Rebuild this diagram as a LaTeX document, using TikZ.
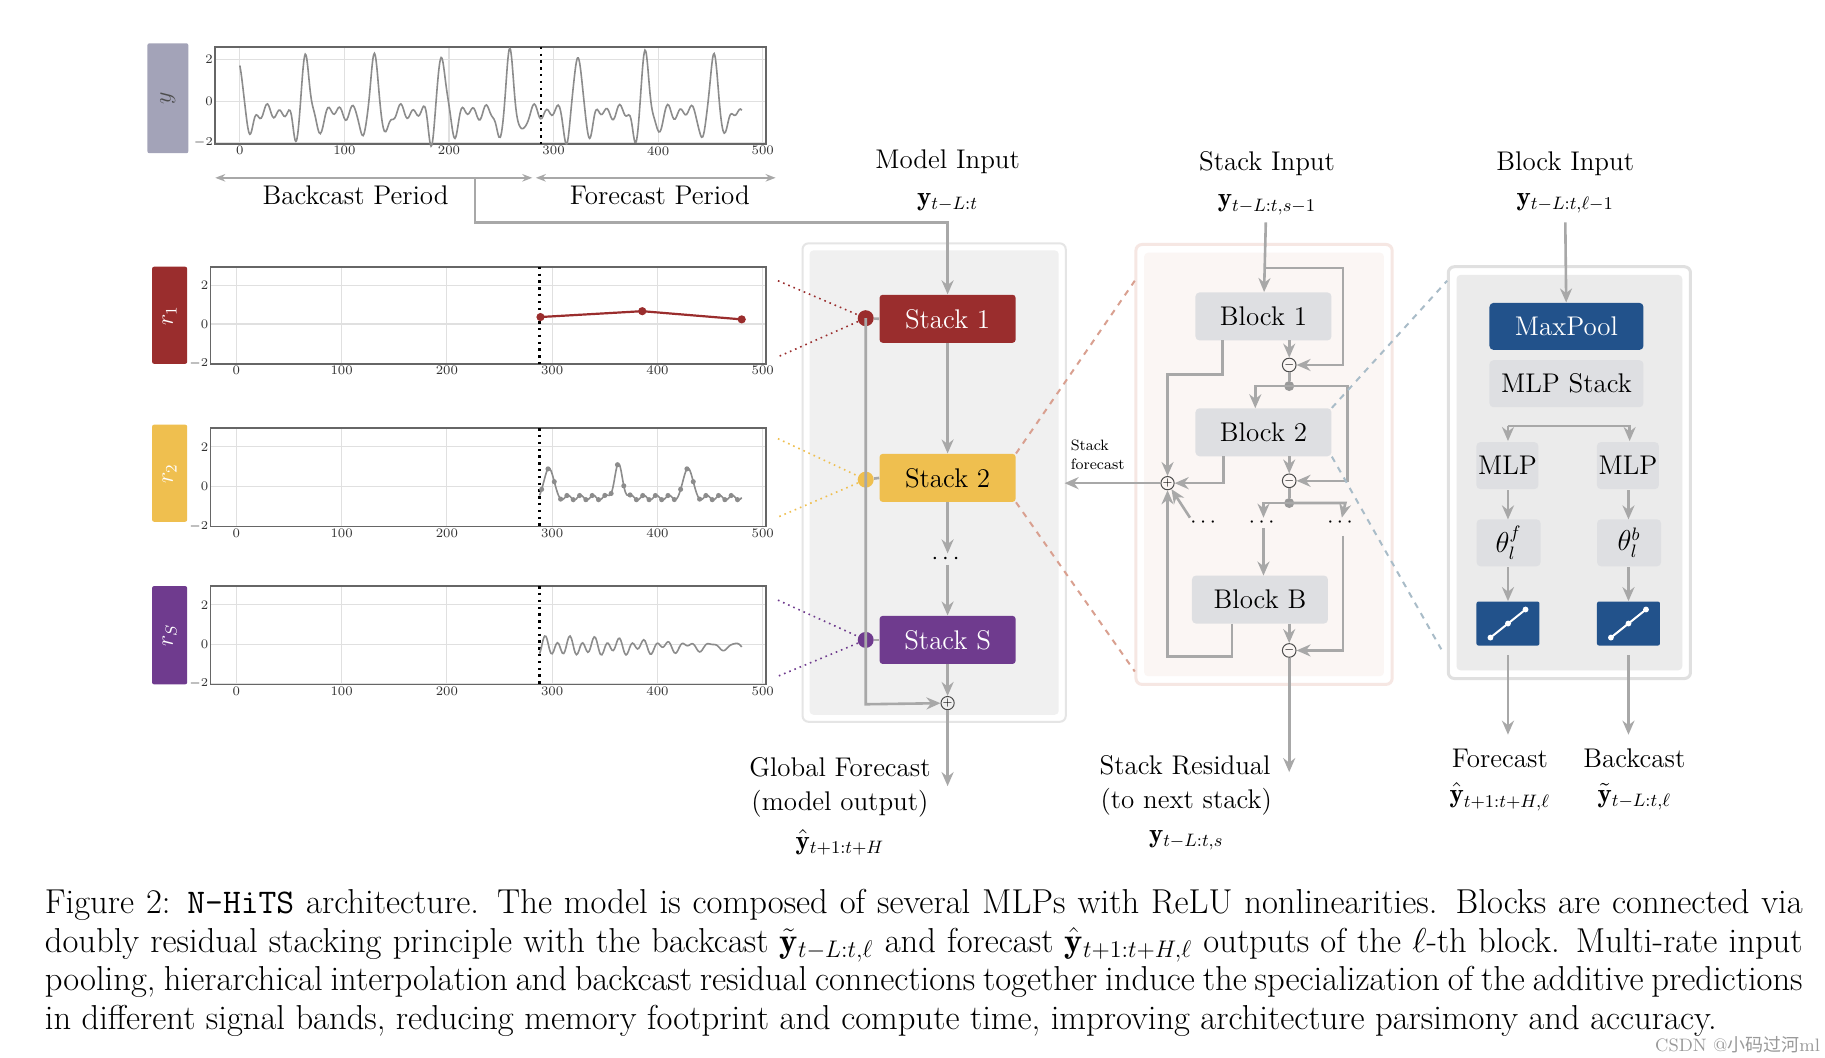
\documentclass[tikz,border=0pt]{standalone}
\usepackage{amsmath,amssymb}
\usepackage{fontspec}
\newfontfamily\cjk{Noto Sans CJK SC}
\usetikzlibrary{arrows.meta,calc}
\definecolor{cred}{HTML}{9A2D2D}
\definecolor{cyel}{HTML}{EFBF4F}
\definecolor{cpur}{HTML}{6F3B8E}
\definecolor{cgy}{HTML}{A3A3B8}
\definecolor{cblue}{HTML}{22528B}
\definecolor{cbox}{HTML}{DEDFE2}
\definecolor{cline}{HTML}{A8A8A8}
\definecolor{csal}{HTML}{D9A090}
\definecolor{cdb}{HTML}{A9BCC8}
\tikzset{
 ar/.style={draw=cline,line width=1.3pt,-{Stealth[length=7pt,width=6pt]}},
 ln/.style={draw=cline,line width=1.3pt},
 lab/.style={font=\fontsize{13.5}{15}\selectfont,inner sep=0pt},
 stk/.style={minimum width=68pt,minimum height=24pt,rounded corners=1.5pt,font=\fontsize{13.5}{15}\selectfont,text=white,inner sep=0pt},
 blk/.style={fill=cbox,rounded corners=2pt,font=\fontsize{13.5}{15}\selectfont,inner sep=0pt},
 op/.style={circle,draw=black!70,line width=0.5pt,minimum size=6pt,inner sep=0pt,font=\fontsize{5}{5}\selectfont},
 jd/.style={circle,fill=gray!80,minimum size=5pt,inner sep=0pt},
 tick/.style={font=\fontsize{6.5}{7}\selectfont,inner sep=1pt,text=black!80},
}
% axes: left top right bottom x0 x500 y2 y0 ym2
\newcommand\myaxes[9]{%
 \fill[white] (#1,#2) rectangle (#3,#4);
 \foreach \t in {0,100,...,500}{\draw[black!12,line width=0.6pt] ({#5+(#6-#5)/500*\t},#2) -- ({#5+(#6-#5)/500*\t},#4);
   \node[tick,below] at ({#5+(#6-#5)/500*\t},#4) {\t};}
 \foreach \yy in {#7,#8,#9}{\draw[black!12,line width=0.6pt] (#1,\yy) -- (#3,\yy);}
 \node[tick,left] at (#1,#7) {2};
 \node[tick,left] at (#1,#8) {0};
 \node[tick,left] at (#1,#9) {$-2$};
 \draw[black!60,line width=0.8pt] (#1,#2) rectangle (#3,#4);
 \draw[black,line width=1.1pt,dash pattern=on 1.2pt off 2.2pt] ({#5+(#6-#5)/500*288},#2) -- ({#5+(#6-#5)/500*288},#4);
}
\newcommand\interp[2]{%
 \draw[white,line width=1pt] (#1-15,#2+12) -- (#1+15,#2-12);
 \fill[white] (#1-15,#2+12) circle (2.5) (#1,#2) circle (2.5) (#1+15,#2-12) circle (2.5);
}
\begin{document}
\begin{tikzpicture}[x=0.585pt,y=-0.585pt]
\useasboundingbox (0,0) rectangle (1560,904.35);
\fill[white] (0,0) rectangle (1560,904.35);

% ---------- top y plot
\fill[cgy,rounded corners=1pt] (126,37) rectangle (161,131);
\node[rotate=90,text=black!70,font=\fontsize{12}{12}\selectfont] (ly) at (143.5,84) {$y$};
\myaxes{184}{40}{655}{123}{205}{652}{51}{87}{122}
\begin{scope}[shift={(205,87)},xscale=0.894,yscale=-17.75]
\draw[gray!90,line width=0.8pt,smooth] plot[domain=0:480,samples=400,variable=\t]
 ({\t},{-0.5+2.7*exp(-((mod(\t+35,65)-33)^2)/22)-1.3*exp(-((mod(\t+35,65)-23)^2)/15)-0.9*exp(-((mod(\t+35,65)-45)^2)/20)+0.25*sin(\t*31)+0.15*sin(\t*17)});
\end{scope}
\draw[cline,line width=1pt,{Stealth[length=5pt]}-{Stealth[length=5pt]}] (184,152) -- (455,152);
\draw[cline,line width=1pt,{Stealth[length=5pt]}-{Stealth[length=5pt]}] (458,152) -- (663,152);
\node[lab] (bp) at (304,167) {Backcast Period};
\node[lab] (fp) at (564,167) {Forecast Period};

% ---------- r1
\fill[cred,rounded corners=1pt] (130,228) rectangle (160,311);
\node[rotate=90,text=white,font=\fontsize{12}{12}\selectfont] (l1) at (145,270) {$r_1$};
\myaxes{180}{228}{655}{311}{202}{652}{244}{277}{311}
\draw[cred,line width=1.1pt] (462,271) -- (549,266) -- (634,273);
\foreach \p in {(462,271),(549,266),(634,273)} \fill[cred] \p circle (3.5);
% ---------- r2
\fill[cyel,rounded corners=1pt] (130,363) rectangle (160,446);
\node[rotate=90,text=white,font=\fontsize{12}{12}\selectfont] (l2) at (145,405) {$r_2$};
\myaxes{180}{366}{655}{450}{202}{652}{382}{416}{450}
\begin{scope}[shift={(202,416)},xscale=0.9,yscale=-17]
\draw[gray!90,line width=0.8pt,smooth] plot[domain=288:480,samples=140,variable=\t]
 ({\t},{-0.55+1.6*exp(-((mod(\t-276,66)-21)^2)/30)+0.12*sin(\t*30)});
\foreach \t in {290,296,...,480} \fill[gray!90] ({\t},{-0.55+1.6*exp(-((mod(\t-276,66)-21)^2)/30)+0.12*sin(\t*30)}) circle (2.4 and 0.13);
\end{scope}
% ---------- rS
\fill[cpur,rounded corners=1pt] (130,501) rectangle (160,585);
\node[rotate=90,text=white,font=\fontsize{12}{12}\selectfont] (l3) at (145,543) {$r_S$};
\myaxes{180}{501}{655}{585}{202}{652}{517}{551}{584}
\begin{scope}[shift={(202,551)},xscale=0.9,yscale=-16.8]
\draw[gray!90,line width=0.8pt,smooth] plot[domain=288:480,samples=160,variable=\t]
 ({\t},{0.35*sin(\t*23)*sin(\t*7+20)+0.2*sin(\t*31)-0.1});
\end{scope}

% ---------- stack panel
\draw[black!10,line width=1pt,fill=white,rounded corners=3pt] (686,208) rectangle (911,617);
\fill[black!6,rounded corners=2pt] (692,214) rectangle (905,611);
\node[stk,fill=cred] (s1) at (810,272.5) {Stack 1};
\node[stk,fill=cyel,text=black] (s2) at (810,408.5) {Stack 2};
\node[inner sep=0pt,font=\fontsize{12}{12}\selectfont] (sd) at (810,478) {$\cdots$};
\node[stk,fill=cpur] (sS) at (810,547) {Stack S};
\node[op] (gp) at (810,601) {$+$};
\node[circle,fill=cred,inner sep=0pt,minimum size=8pt] (d1) at (740,272) {};
\node[circle,fill=cyel,inner sep=0pt,minimum size=8pt] (d2) at (740,410) {};
\node[circle,fill=cpur,inner sep=0pt,minimum size=8pt] (d3) at (740,547) {};
\draw[cred,line width=0.8pt,dotted] (665,240) -- (d1) -- (665,305);
\draw[cyel,line width=0.8pt,dotted] (665,375) -- (d2) -- (665,442);
\draw[cpur,line width=0.8pt,dotted] (665,513) -- (d3) -- (665,578);
\draw[ln] (d1) -- (s1.west);
\draw[ln] (d2) -- (s2.west);
\draw[ln] (d3) -- (sS.west);
\draw[ar] (d1.center) -- (740,602) -- (gp);
\coordinate (mi) at (810,190);
\draw[ar] (406,152) -- (406,190) -- (mi) -- (s1);
\draw[ar] (s1) -- (s2);
\draw[ar] (s2) -- (sd);
\draw[ar] (sd) -- (sS);
\draw[ar] (sS) -- (gp);
\coordinate (go) at (810,672);
\draw[ar] (gp) -- (go);
\node[lab] (mit) at (810,138) {Model Input};
\node[lab] (miy) at (810,173) {$\mathbf{y}_{t-L:t}$};
\node[lab] (gf1) at (718,656) {Global Forecast};
\node[lab] (gf2) at (718,687) {(model output)};
\node[lab] (gf3) at (718,720) {$\hat{\mathbf{y}}_{t+1:t+H}$};

% ---------- block panel (stack detail)
\draw[csal!25,line width=1.5pt,fill=white,rounded corners=3pt] (971,209) rectangle (1190,585);
\fill[csal!10,rounded corners=2pt] (978,216) rectangle (1183,578);
\draw[csal,line width=1pt,dash pattern=on 3pt off 3pt] (s2.north east) -- (970,240);
\draw[csal,line width=1pt,dash pattern=on 3pt off 3pt] (s2.south east) -- (970,574);
\node[blk,minimum width=68pt,minimum height=24pt] (b1) at (1080,270.5) {Block 1};
\node[blk,minimum width=68pt,minimum height=24pt] (b2) at (1080,369.5) {Block 2};
\node[blk,minimum width=68pt,minimum height=24pt] (bB) at (1077,512.5) {Block B};
\node[op] (m1) at (1102,312) {$-$};
\node[op] (m2) at (1102,411) {$-$};
\node[op] (m3) at (1102,556) {$-$};
\node[op] (pl) at (998,413) {$+$};
\node[jd] (j1) at (1102,330) {};
\node[jd] (j2) at (1102,430) {};
\node[inner sep=0pt,font=\fontsize{11}{11}\selectfont] (e1) at (1030,447) {$\cdots$};
\node[inner sep=0pt,font=\fontsize{11}{11}\selectfont] (e2) at (1080,447) {$\cdots$};
\node[inner sep=0pt,font=\fontsize{11}{11}\selectfont] (e3) at (1147,447) {$\cdots$};
\coordinate (si) at (1082,190);
\draw[ar] (si) -- (b1);
\draw[ar] (1082,229) -- (1148,229) -- (1148,312) -- (m1);
\draw[ar] (1102,291) -- (m1);
\draw[ar] (1045,291) -- (1045,320) -- (998,320) -- (pl);
\draw[ln] (m1) -- (j1);
\draw[ar] (j1.center) -- (1073,330) -- (1073,349);
\draw[ar] (j1.center) -- (1152,330) -- (1152,411) -- (m2);
\draw[ar] (1102,390) -- (m2);
\draw[ar] (1046,390) -- (1046,413) -- (pl);
\draw[ln] (m2) -- (j2);
\draw[ar] (j2.center) -- (1080,430) -- (e2.north);
\draw[ar] (j2.center) -- (1150,430) -- (e3.north);
\draw[ar] (e1.north west) -- (pl);
\draw[ar] (e2.south) -- (1080,492);
\draw[ar] (1148,458) -- (1148,556) -- (m3);
\draw[ar] (1102,533) -- (m3);
\draw[ar] (1053,533) -- (1053,561) -- (998,561) -- (pl);
\coordinate (so) at (1102,660);
\draw[ar] (m3) -- (so);
\coordinate (sf) at (910,413);
\draw[ar] (pl) -- (sf);
\node[align=left,font=\fontsize{7.5}{9.5}\selectfont,inner sep=0pt,anchor=west] (sft) at (915,389) {Stack\\forecast};
\node[lab] (sit) at (1083,140) {Stack Input};
\node[lab] (siy) at (1083,175) {$\mathbf{y}_{t-L:t,s-1}$};
\node[lab] (sr1) at (1013,654) {Stack Residual};
\node[lab] (sr2) at (1014,685) {(to next stack)};
\node[lab] (sr3) at (1014,718) {$\mathbf{y}_{t-L:t,s}$};

% ---------- block detail
\draw[black!12,line width=1.5pt,fill=white,rounded corners=3pt] (1238,228) rectangle (1445,580);
\fill[black!8,rounded corners=2pt] (1245,235) rectangle (1438,573);
\draw[cdb,line width=1pt,dash pattern=on 3pt off 3pt] (b2.north east) -- (1237,240);
\draw[cdb,line width=1pt,dash pattern=on 3pt off 3pt] (b2.south east) -- (1232,555);
\node[blk,fill=cblue,text=white,minimum width=77pt,minimum height=23.5pt] (mp) at (1339,279) {MaxPool};
\node[blk,minimum width=77pt,minimum height=23.5pt] (ms) at (1339,328) {MLP Stack};
\node[blk,minimum width=31pt,minimum height=23.5pt] (mf) at (1288.5,398) {MLP};
\node[blk,minimum width=31pt,minimum height=23.5pt] (mb) at (1391.5,398) {MLP};
\node[blk,minimum width=32pt,minimum height=23.5pt] (tf) at (1289.5,464) {$\theta^{f}_{l}$};
\node[blk,minimum width=32pt,minimum height=23.5pt] (tb) at (1392.5,464) {$\theta^{b}_{l}$};
\node[fill=cblue,rounded corners=1pt,minimum width=31.5pt,minimum height=22pt,inner sep=0pt] (if) at (1289,533) {};
\node[fill=cblue,rounded corners=1pt,minimum width=31.5pt,minimum height=22pt,inner sep=0pt] (ib) at (1392,533) {};
\interp{1289}{533}
\interp{1392}{533}
\coordinate (bi) at (1338,190);
\draw[ar] (bi) -- (mp);
\draw[ar] (1289,364) -- (1393,364) -- (1393,377);
\draw[ar] (1289,364) -- (1289,377);
\draw[ar] (1289,419) -- (1289,444);
\draw[ar] (1392,419) -- (1392,444);
\draw[ar] (1289,485) -- (if);
\draw[ar] (1392,485) -- (ib);
\coordinate (fo) at (1289,628);
\coordinate (bo) at (1392,628);
\draw[ar] (1289,560) -- (fo);
\draw[ar] (1392,560) -- (bo);
\node[lab] (bit) at (1338,140) {Block Input};
\node[lab] (biy) at (1338,174) {$\mathbf{y}_{t-L:t,\ell-1}$};
\node[lab] (fot) at (1282,648) {Forecast};
\node[lab] (foy) at (1282,681) {$\hat{\mathbf{y}}_{t+1:t+H,\ell}$};
\node[lab] (bot) at (1397,648) {Backcast};
\node[lab] (boy) at (1397,681) {$\tilde{\mathbf{y}}_{t-L:t,\ell}$};

% ---------- caption
\node[anchor=north west,inner sep=0pt,text width=879pt,align=justify,font=\fontsize{17.3}{19.3}\selectfont] (cap) at (38,760) {Figure 2: \texttt{N-HiTS} architecture. The model is composed of several MLPs with ReLU nonlinearities. Blocks are connected via doubly residual stacking principle with the backcast $\tilde{\mathbf{y}}_{t-L:t,\ell}$ and forecast $\hat{\mathbf{y}}_{t+1:t+H,\ell}$ outputs of the $\ell$-th block. Multi-rate input pooling, hierarchical interpolation and backcast residual connections together induce the specialization of the additive predictions in different signal bands, reducing memory footprint and compute time, improving architecture parsimony and accuracy.\par};
\node[anchor=east,inner sep=0pt,text=black!40,font=\fontsize{9}{9}\selectfont] (wm) at (1556,893) {CSDN @{\cjk 小码过河}ml};
\end{tikzpicture}
\end{document}
